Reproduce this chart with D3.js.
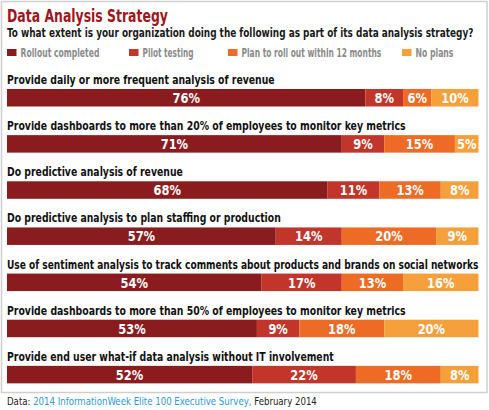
<!DOCTYPE html>
<html><head><meta charset="utf-8">
<script src="https://cdn.jsdelivr.net/npm/d3@7"></script>
<style>
html,body{margin:0;padding:0;background:#fff;}
svg{display:block;}
text{font-family:"Liberation Sans Narrow","DejaVu Sans Condensed","Arial Narrow",sans-serif;}
</style></head>
<body>
<svg id="chart" width="489" height="410"></svg>
<script>
const title = "Data Analysis Strategy";
const subtitle = "To what extent is your organization doing the following as part of its data analysis strategy?";
const seriesNames = ["Rollout completed", "Pilot testing", "Plan to roll out within 12 months", "No plans"];
const seriesColors = ["#8a1c1f", "#c1352b", "#ee6b25", "#f6a03c"];
const categories = [
  "Provide daily or more frequent analysis of revenue",
  "Provide dashboards to more than 20% of employees to monitor key metrics",
  "Do predictive analysis of revenue",
  "Do predictive analysis to plan staffing or production",
  "Use of sentiment analysis to track comments about products and brands on social networks",
  "Provide dashboards to more than 50% of employees to monitor key metrics",
  "Provide end user what-if data analysis without IT involvement"
];
const rollout = [76, 71, 68, 57, 54, 53, 52];
const pilot   = [8, 9, 11, 14, 17, 9, 22];
const plan    = [6, 15, 13, 20, 13, 18, 18];
const noPlans = [10, 5, 8, 9, 16, 20, 8];

const svg = d3.select("#chart");
const series = [rollout, pilot, plan, noPlans];

// place a text at (x,y) and squeeze it horizontally (condensed look)
function squeeze(sel, x, y, k) {
  sel.attr("x", 0).attr("y", 0)
     .attr("transform", `translate(${x},${y}) scale(${k},1)`);
}
function fitTo(sel, x, y, target) {
  const w = sel.node().getComputedTextLength();
  squeeze(sel, x, y, target / w);
  return target / w;
}

// frame
svg.append("rect").attr("x", 1.5).attr("y", 1.5).attr("width", 485.5).attr("height", 391)
  .attr("fill", "#fff").attr("stroke", "#cfcfcf").attr("stroke-width", 1.5);

// title
const tt = svg.append("text").text(title)
  .attr("font-size", 17.5).attr("font-weight", "bold").attr("fill", "#a0161d");
fitTo(tt, 7, 22, 161);
const st = svg.append("text").text(subtitle)
  .attr("font-size", 12.5).attr("font-weight", "bold").attr("fill", "#1a1a1a");
fitTo(st, 7, 37, 467);

// legend
const legendX = [7, 129, 228, 402];
const legendW = [79, 51, 140, 38];
seriesNames.forEach((name, i) => {
  svg.append("rect").attr("x", legendX[i]).attr("y", 49).attr("width", 9.5).attr("height", 7)
    .attr("fill", seriesColors[i]);
  const t = svg.append("text").text(name)
    .attr("font-size", 11.5).attr("font-weight", "bold").attr("fill", "#8a8a8a");
  fitTo(t, legendX[i] + 13.5, 56.5, legendW[i]);
});

// scales
const x = d3.scaleLinear().domain([0, 100]).range([7, 478.5]);
const y = d3.scaleBand().domain(d3.range(categories.length)).range([66, 389]).paddingInner(0).paddingOuter(0);
const barTop = i => y(i) + 23;
const barH = 17.5;

// category labels, condensed to the reference widths
const labelWidths = [268, 399, 176, 274, 472, 399, 327];
categories.forEach((c, i) => {
  const t = svg.append("text").text(c)
    .attr("font-size", 12.8).attr("font-weight", "bold").attr("fill", "#111");
  fitTo(t, 7, barTop(i) - 5, labelWidths[i]);
});

categories.forEach((c, i) => {
  let acc = 0;
  const segs = series.map((s, k) => { const seg = {k, x0: acc, x1: acc + s[i], v: s[i]}; acc += s[i]; return seg; });
  const g = svg.append("g");
  g.selectAll("rect").data(segs).join("rect")
    .attr("x", d => x(d.x0)).attr("width", d => x(d.x1) - x(d.x0))
    .attr("y", barTop(i)).attr("height", barH)
    .attr("fill", d => seriesColors[d.k]);
  g.selectAll("text").data(segs).join("text")
    .attr("text-anchor", "middle").text(d => d.v + "%")
    .attr("font-size", 14.5).attr("font-weight", "bold").attr("fill", "#fff")
    .each(function(d) { squeeze(d3.select(this), (x(d.x0) + x(d.x1)) / 2, barTop(i) + 14, 0.88); });
});

// footer
const ft = svg.append("text").attr("font-size", 11)
  .attr("font-family", "'Liberation Sans','Arial',sans-serif").attr("fill", "#222");
ft.append("tspan").text("Data: ");
ft.append("tspan").attr("fill", "#2b9ad6").text("2014 InformationWeek Elite 100 Executive Survey,");
ft.append("tspan").text(" February 2014");
fitTo(ft, 7, 405, 310);
</script>
</body></html>
